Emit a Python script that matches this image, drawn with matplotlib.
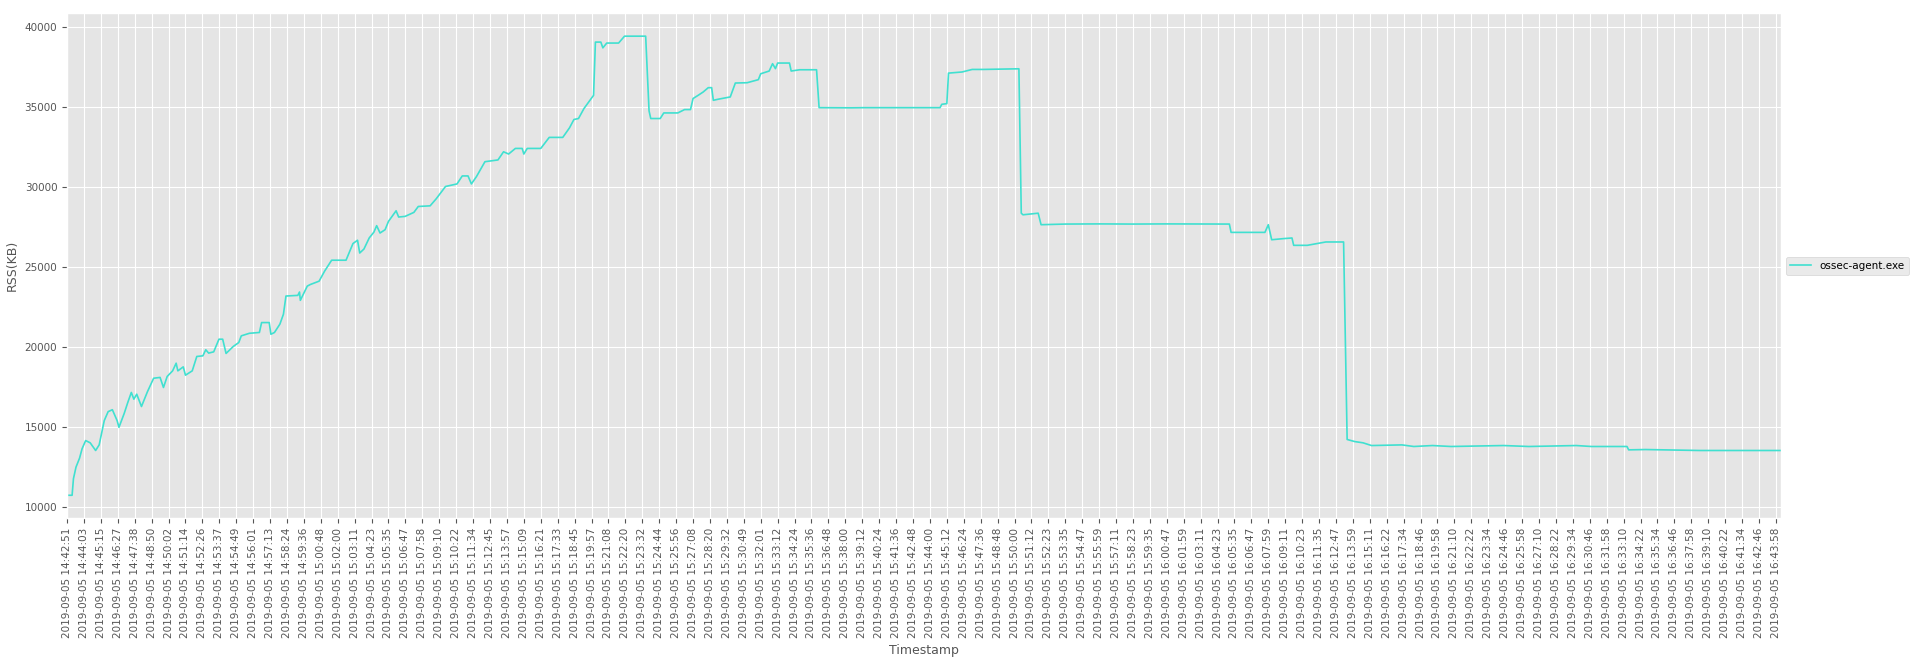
import numpy as np
import matplotlib
matplotlib.use("Agg")
import matplotlib.pyplot as plt

plt.style.use("ggplot")
plt.rcParams["font.size"] = 7.5

# x tick labels (categorical sample axis, one label every few samples)
tick_labels = [
    "14:42:51", "14:44:03", "14:45:15", "14:46:27", "14:47:38", "14:48:50", "14:50:02", "14:51:14",
    "14:52:26", "14:53:37", "14:54:49", "14:56:01", "14:57:13", "14:58:24", "14:59:36", "15:00:48",
    "15:02:00", "15:03:11", "15:04:23", "15:05:35", "15:06:47", "15:07:58", "15:09:10", "15:10:22",
    "15:11:34", "15:12:45", "15:13:57", "15:15:09", "15:16:21", "15:17:33", "15:18:45", "15:19:57",
    "15:21:08", "15:22:20", "15:23:32", "15:24:44", "15:25:56", "15:27:08", "15:28:20", "15:29:32",
    "15:30:49", "15:32:01", "15:33:12", "15:34:24", "15:35:36", "15:36:48", "15:38:00", "15:39:12",
    "15:40:24", "15:41:36", "15:42:48", "15:44:00", "15:45:12", "15:46:24", "15:47:36", "15:48:48",
    "15:50:00", "15:51:12", "15:52:23", "15:53:35", "15:54:47", "15:55:59", "15:57:11", "15:58:23",
    "15:59:35", "16:00:47", "16:01:59", "16:03:11", "16:04:23", "16:05:35", "16:06:47", "16:07:59",
    "16:09:11", "16:10:23", "16:11:35", "16:12:47", "16:13:59", "16:15:11", "16:16:22", "16:17:34",
    "16:18:46", "16:19:58", "16:21:10", "16:22:22", "16:23:34", "16:24:46", "16:25:58", "16:27:10",
    "16:28:22", "16:29:34", "16:30:46", "16:31:58", "16:33:10", "16:34:22", "16:35:34", "16:36:46",
    "16:37:58", "16:39:10", "16:40:22", "16:41:34", "16:42:46", "16:43:58",
]
tick_labels = ["2019-09-05 " + t for t in tick_labels]

# RSS readings: position in tick units, value in KB
pos = [0.0, 0.3, 0.38, 0.53, 0.74, 0.89, 1.1, 1.37, 1.69, 1.9, 2.2, 2.43, 2.68, 2.96, 3.07, 3.38,
       3.59, 3.8, 3.95, 4.12, 4.4, 4.75, 5.12, 5.5, 5.7, 5.92, 6.24, 6.45, 6.55, 6.87, 7.0, 7.4,
       7.67, 8.03, 8.2, 8.37, 8.67, 8.98, 9.2, 9.4, 9.83, 10.15, 10.3, 10.78, 11.37, 11.5, 11.95,
       12.05, 12.26, 12.58, 12.79, 12.94, 13.64, 13.74, 13.79, 14.2, 14.38, 14.9, 15.22, 15.64,
       16.49, 16.9, 17.17, 17.3, 17.55, 17.86, 18.14, 18.3, 18.5, 18.8, 19.0, 19.45, 19.6, 19.98,
       20.5, 20.76, 21.46, 21.82, 22.37, 23.05, 23.36, 23.7, 23.9, 24.2, 24.7, 25.47, 25.8, 26.1,
       26.5, 26.9, 27.0, 27.2, 28.0, 28.5, 29.3, 29.7, 29.96, 30.23, 30.55, 31.12, 31.23, 31.55,
       31.67, 31.9, 32.6, 32.95, 34.2, 34.4, 34.5, 35.06, 35.27, 36.1, 36.5, 36.85, 37.0, 37.3,
       37.6, 37.9, 38.1, 38.2, 38.5, 39.2, 39.5, 40.2, 40.86, 41.0, 41.5, 41.7, 41.87, 42.0, 42.7,
       42.8, 43.3, 44.3, 44.45, 46.35, 47.1, 51.6, 51.7, 52.0, 52.1, 52.9, 53.5, 54.15, 56.15,
       56.26, 56.4, 56.5, 57.4, 57.57, 59.0, 61.0, 63.0, 65.0, 68.7, 68.8, 70.8, 71.0, 71.2, 71.9,
       72.4, 72.5, 73.3, 74.4, 75.45, 75.66, 76.1, 76.6, 77.1, 78.9, 79.6, 80.7, 81.8, 84.9, 86.4,
       89.2, 90.1, 92.2, 92.3, 93.3, 96.5, 99.0, 101.3]
rss = [10730, 10730, 11770, 12490, 13050, 13640, 14150, 14010, 13530, 13880, 15400, 15960, 16080,
       15400, 14980, 15850, 16530, 17160, 16740, 17050, 16280, 17200, 18050, 18100, 17470, 18160,
       18510, 18990, 18510, 18760, 18240, 18510, 19410, 19450, 19830, 19620, 19700, 20490, 20490,
       19600, 20040, 20280, 20700, 20860, 20910, 21530, 21530, 20800, 20910, 21430, 22050, 23190,
       23230, 23440, 22920, 23810, 23910, 24120, 24740, 25430, 25430, 26470, 26680, 25880, 26130,
       26820, 27190, 27590, 27130, 27340, 27860, 28520, 28130, 28170, 28420, 28790, 28830, 29270,
       30040, 30200, 30700, 30700, 30200, 30660, 31590, 31700, 32210, 32070, 32420, 32420, 32070,
       32420, 32420, 33110, 33110, 33710, 34230, 34290, 34910, 35740, 39070, 39070, 38710, 39010,
       39010, 39440, 39440, 34770, 34290, 34290, 34640, 34640, 34850, 34850, 35540, 35740, 35950,
       36220, 36220, 35430, 35500, 35640, 36510, 36530, 36720, 37090, 37260, 37720, 37410, 37760,
       37760, 37260, 37340, 37340, 34970, 34960, 34970, 34970, 35180, 35220, 37130, 37200, 37360,
       37360, 37400, 37400, 28370, 28270, 28370, 27650, 27690, 27700, 27690, 27700, 27690, 27170,
       27170, 27650, 26710, 26780, 26820, 26360, 26360, 26570, 26570, 14220, 14090, 14010, 13840,
       13880, 13780, 13840, 13780, 13840, 13780, 13840, 13780, 13780, 13570, 13590, 13530, 13530,
       13530]

fig = plt.figure(figsize=(19.15, 6.61), dpi=100)
ax = fig.add_axes([0.035, 0.216, 0.895, 0.764])
ax.plot(pos, rss, color="#40E0D0", linewidth=1.2, label="ossec-agent.exe")
ax.set_xticks(np.arange(len(tick_labels)))
ax.set_xticklabels(tick_labels, rotation=90)
ax.set_xlim(0, 101.3)
ax.set_xlabel("Timestamp")
ax.set_ylabel("RSS(KB)")
ax.legend(loc="center left", bbox_to_anchor=(1.0, 0.5))
fig.savefig("out.png", dpi=100)
